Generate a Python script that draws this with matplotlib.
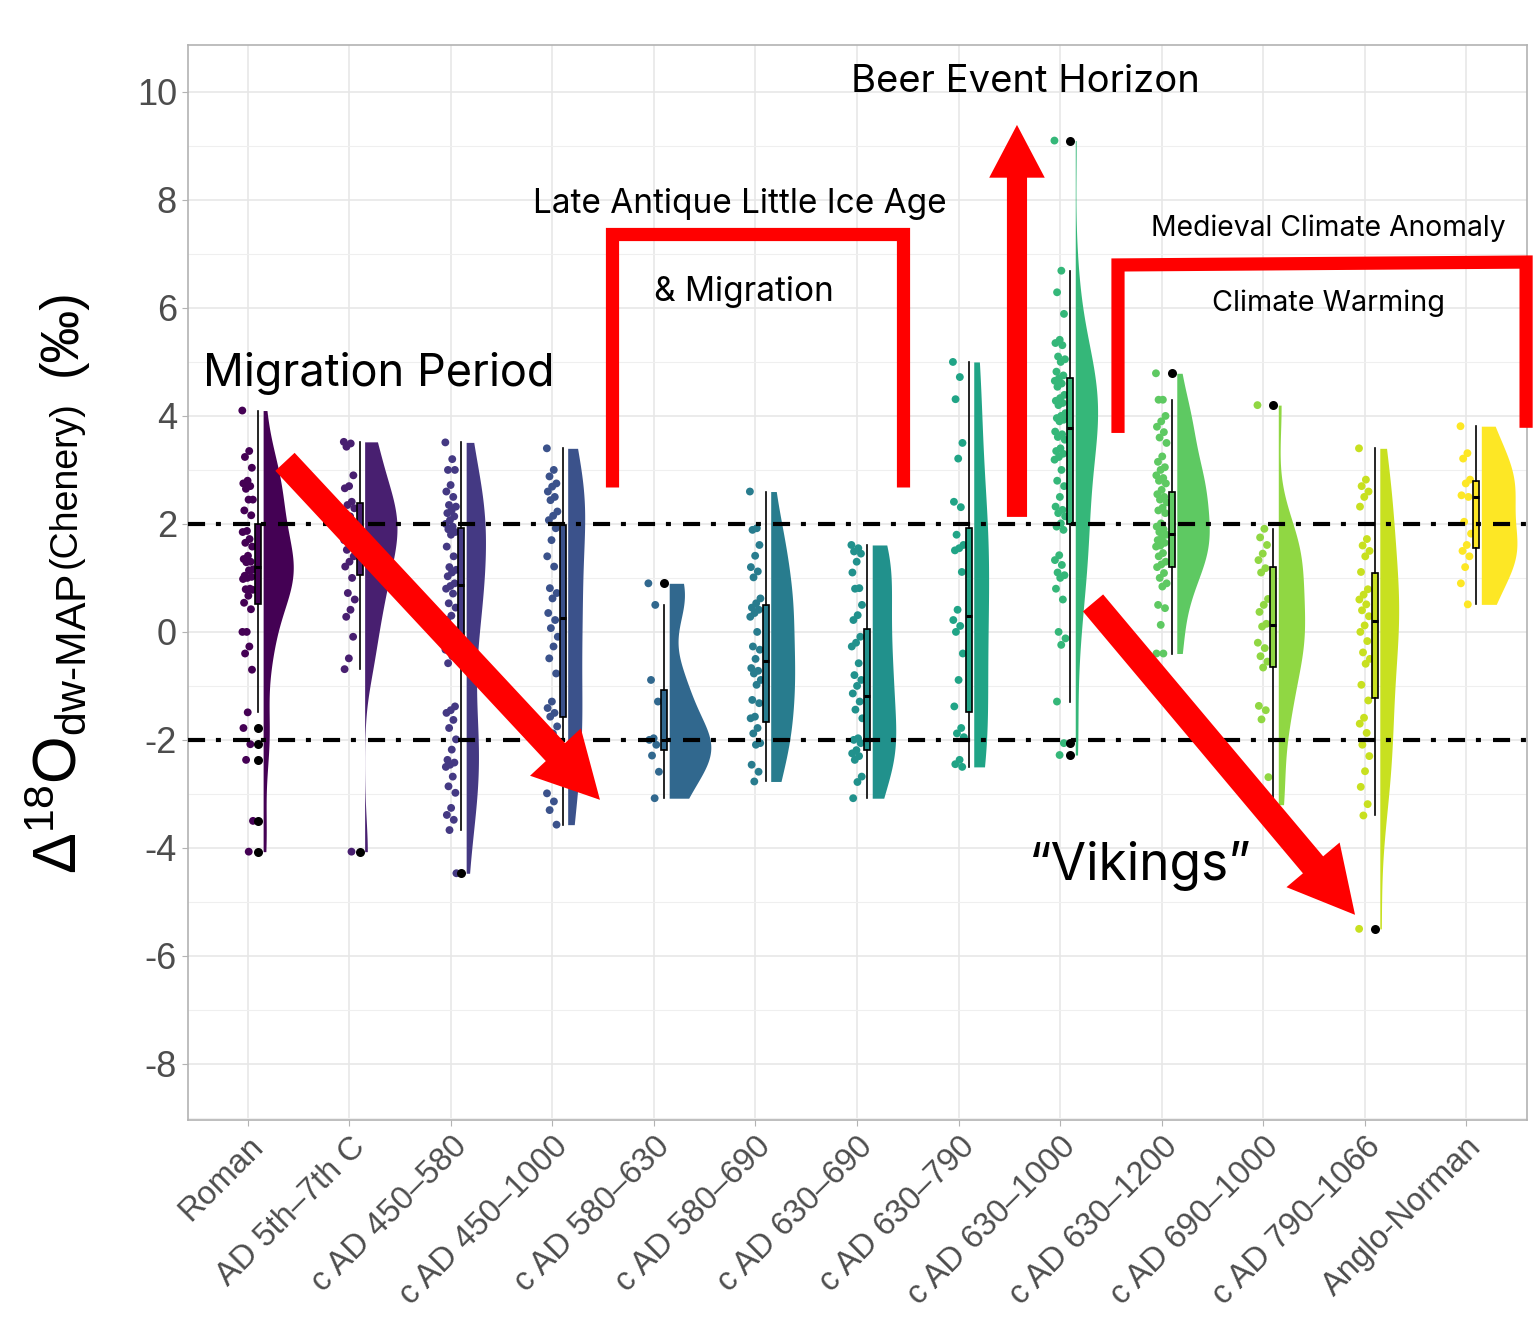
import numpy as np
import matplotlib
matplotlib.use('Agg')
import matplotlib.pyplot as plt

plt.rcParams['axes.unicode_minus'] = False
plt.rcParams['mathtext.fontset'] = 'custom'
plt.rcParams['mathtext.rm'] = 'Liberation Sans'
plt.rcParams['mathtext.it'] = 'Liberation Sans:italic'
plt.rcParams['mathtext.bf'] = 'Liberation Sans:bold'
plt.rcParams['font.family'] = ['Liberation Sans', 'DejaVu Sans']

groups = ['Roman', 'AD 5th\u20137th C', 'c AD 450\u2013580', 'c AD 450\u20131000',
          'c AD 580\u2013630', 'c AD 580\u2013690', 'c AD 630\u2013690', 'c AD 630\u2013790',
          'c AD 630\u20131000', 'c AD 630\u20131200', 'c AD 690\u20131000',
          'c AD 790\u20131066', 'Anglo-Norman']

# d18O values, one list per period
roman = [4.1, 3.35, 3.24, 3.04, 2.8, 2.75, 2.7, 2.65, 2.45, 2.45, 2.25, 2.16, 1.87, 1.85,
         1.72, 1.65, 1.58, 1.41, 1.35, 1.3, 1.29, 1.16, 1.14, 1.04, 1.02, 1.0, 0.98, 0.8,
         0.79, 0.78, 0.67, 0.54, 0.42, 0.0, 0.0, -0.27, -0.4, -0.7, -1.49, -1.78, -2.08,
         -2.37, -3.5, -4.07]
ad_5_7 = [3.52, 3.49, 3.43, 2.9, 2.7, 2.66, 2.41, 2.35, 2.29, 2.14, 2.11, 1.95, 1.9, 1.7,
          1.64, 1.52, 1.4, 1.3, 1.21, 1.0, 0.72, 0.6, 0.41, 0.28, -0.09, -0.49, -0.69, -4.07]
ad_450_580 = [3.51, 3.2, 3.0, 3.0, 2.72, 2.6, 2.5, 2.35, 2.32, 2.25, 2.2, 2.14, 2.07, 2.0,
              1.95, 1.9, 1.85, 1.8, 1.58, 1.4, 1.2, 1.15, 1.1, 1.03, 0.9, 0.85, 0.8, 0.71,
              0.53, 0.45, 0.3, 0.22, 0.04, -0.02, -0.33, -0.45, -0.58, -1.38, -1.45, -1.5,
              -1.63, -1.78, -1.99, -2.18, -2.37, -2.42, -2.46, -2.5, -2.68, -2.86, -2.98,
              -3.26, -3.39, -3.48, -3.67, -4.47]
ad_450_1000 = [3.4, 3.0, 2.88, 2.75, 2.69, 2.6, 2.5, 2.44, 2.23, 2.15, 2.07, 1.92, 1.7, 1.4,
               1.21, 0.81, 0.72, 0.62, 0.35, 0.22, 0.07, -0.09, -0.27, -0.49, -0.77, -1.29,
               -1.41, -1.5, -1.57, -1.75, -1.88, -2.0, -2.12, -2.52, -2.99, -3.14, -3.3, -3.57]
ad_580_630 = [0.9, 0.5, -0.89, -1.29, -1.97, -2.0, -2.09, -2.29, -2.59, -3.08]
ad_580_690 = [2.6, 1.92, 1.89, 1.61, 1.41, 1.2, 1.12, 1.01, 0.62, 0.53, 0.45, 0.41, 0.35,
              0.28, 0.0, -0.27, -0.33, -0.5, -0.67, -0.72, -0.77, -0.89, -0.98, -1.26,
              -1.32, -1.57, -1.6, -1.78, -1.88, -2.06, -2.09, -2.46, -2.59, -2.77]
ad_630_690 = [1.61, 1.55, 1.49, 1.45, 1.3, 1.1, 0.81, 0.8, 0.5, 0.31, 0.22, -0.09, -0.2,
              -0.27, -0.58, -0.8, -0.89, -1.0, -1.14, -1.29, -1.44, -1.6, -1.97, -2.0,
              -2.06, -2.19, -2.25, -2.3, -2.37, -2.68, -2.78, -3.08]
ad_630_790 = [5.0, 4.72, 4.31, 3.5, 3.21, 2.41, 2.31, 1.8, 1.61, 1.55, 1.51, 1.11, 0.41,
              0.22, 0.11, 0.0, -0.4, -0.89, -1.38, -1.78, -1.88, -1.95, -2.37, -2.45, -2.5]
ad_630_1000 = [9.1, 6.69, 6.29, 5.89, 5.41, 5.35, 5.31, 5.1, 5.05, 5.0, 4.82, 4.75, 4.7,
               4.65, 4.6, 4.54, 4.39, 4.33, 4.28, 4.24, 4.2, 4.05, 4.0, 3.96, 3.93, 3.9,
               3.71, 3.66, 3.61, 3.56, 3.4, 3.35, 3.3, 3.24, 3.19, 3.0, 2.8, 2.7, 2.5, 2.32,
               2.26, 2.2, 2.14, 2.01, 1.95, 1.89, 1.42, 1.33, 1.24, 1.1, 1.05, 1.0, 0.8,
               0.6, 0.0, -0.12, -0.24, -1.29, -2.06, -2.28]
ad_630_1200 = [4.79, 4.3, 4.3, 4.0, 3.9, 3.8, 3.7, 3.6, 3.5, 3.25, 3.15, 3.05, 3.0, 2.9,
               2.85, 2.8, 2.75, 2.63, 2.55, 2.5, 2.45, 2.4, 2.3, 2.25, 2.2, 2.01, 1.95,
               1.9, 1.85, 1.8, 1.75, 1.7, 1.65, 1.6, 1.58, 1.46, 1.4, 1.3, 1.25, 1.2, 1.09,
               1.0, 0.9, 0.84, 0.5, 0.44, 0.13, -0.4, -0.4]
ad_690_1000 = [4.2, 1.91, 1.75, 1.61, 1.45, 1.33, 1.18, 1.1, 0.61, 0.5, 0.37, 0.15, 0.1,
               -0.2, -0.3, -0.45, -0.55, -0.66, -1.37, -1.45, -1.62, -2.69, -3.2]
ad_790_1066 = [3.4, 2.82, 2.7, 2.6, 2.5, 2.32, 1.72, 1.6, 1.5, 1.4, 1.11, 0.79, 0.69, 0.6,
               0.51, 0.4, 0.29, 0.12, 0.0, -0.17, -0.38, -0.5, -0.59, -0.98, -1.27, -1.59,
               -1.7, -1.87, -2.09, -2.3, -2.58, -2.87, -3.19, -3.4, -5.5]
anglo_norman = [3.81, 3.31, 3.21, 2.82, 2.75, 2.53, 2.5, 2.04, 1.82, 1.61, 1.5, 1.4, 1.2,
                0.9, 0.51]

values = [roman, ad_5_7, ad_450_580, ad_450_1000, ad_580_630, ad_580_690, ad_630_690,
          ad_630_790, ad_630_1000, ad_630_1200, ad_690_1000, ad_790_1066, anglo_norman]

# boxplot statistics as drawn in the chart
box_q1 = [0.52, 1.06, -0.4, -1.57, -2.19, -1.66, -2.19, -1.49, 1.99, 1.21, -0.65, -1.22, 1.55]
box_med = [1.21, 1.8, 0.86, 0.25, -2.0, -0.54, -1.19, 0.3, 3.77, 1.81, 0.12, 0.2, 2.5]
box_q3 = [2.0, 2.38, 1.92, 1.98, -1.08, 0.5, 0.05, 1.92, 4.7, 2.59, 1.2, 1.1, 2.8]
whis_lo = [-1.49, -0.69, -3.67, -3.57, -3.08, -2.77, -3.08, -2.5, -1.29, -0.4, -3.2, -3.4, 0.51]
whis_hi = [4.1, 3.52, 3.51, 3.4, 0.5, 2.6, 1.61, 5.0, 6.69, 4.3, 1.91, 3.4, 3.81]
fliers = [[-1.78, -2.08, -2.37, -3.5, -4.07], [-4.07], [-4.47], [], [0.9], [], [], [],
          [9.1, -2.06, -2.28], [4.79], [4.2], [-5.5], []]

colors = plt.cm.viridis(np.linspace(0, 1, len(groups)))


def nrd0(x):
    sd = x.std(ddof=1)
    q75, q25 = np.percentile(x, [75, 25])
    lo = min(sd, (q75 - q25) / 1.34)
    if lo <= 0:
        lo = sd
    return 0.9 * lo * len(x) ** -0.2


def density(x, grid):
    bw = nrd0(x)
    z = (grid[:, None] - x[None, :]) / bw
    return np.exp(-0.5 * z ** 2).sum(axis=1) / (len(x) * bw * np.sqrt(2 * np.pi))


fig = plt.figure(figsize=(15.36, 13.25), dpi=100)
ax = fig.add_axes([188 / 1536, (1325 - 1120) / 1325, (1527 - 188) / 1536, (1120 - 45) / 1325])

grids, dens = [], []
for vals in values:
    v = np.array(vals)
    g = np.linspace(v.min(), v.max(), 512)
    grids.append(g)
    dens.append(density(v, g))
scale = 0.41 / max(d.max() for d in dens)

for i, vals in enumerate(values):
    pos = i + 1
    c = colors[i]
    v = np.array(vals)
    ax.fill_betweenx(grids[i], pos + 0.15, pos + 0.15 + dens[i] * scale, color=c, lw=0, zorder=2)
    jit = ((np.arange(len(v)) * 0.618) % 1 - 0.5) * 0.11
    ax.scatter(pos + jit, v, s=32, color=c, edgecolors='none', zorder=3)
    st = dict(med=box_med[i], q1=box_q1[i], q3=box_q3[i], whislo=whis_lo[i],
              whishi=whis_hi[i], fliers=fliers[i])
    ax.bxp([st], positions=[pos + 0.1], widths=0.06, patch_artist=True, showcaps=False,
           boxprops=dict(facecolor=c, edgecolor='black', lw=1.2),
           medianprops=dict(color='black', lw=2.2),
           whiskerprops=dict(color='black', lw=1.2),
           flierprops=dict(marker='o', markerfacecolor='black', markeredgecolor='none',
                           markersize=6.5),
           manage_ticks=False, zorder=3)

for yl in (2, -2):
    ax.axhline(yl, color='black', lw=3, ls=(0, (4.1, 2.6, 1.2, 2.9)), zorder=4)

ax.set_xlim(0.41, 13.60)
ax.set_ylim(-9.04, 10.87)
ax.set_xticks(range(1, len(groups) + 1))
ax.set_xticklabels(groups, rotation=45, ha='right', va='top', rotation_mode='anchor',
                   fontsize=23.5)
ax.set_yticks(np.arange(-8, 11, 2))
ax.set_yticks(np.arange(-9, 11, 2), minor=True)
ax.grid(True, which='major', color='#E6E6E6', lw=1.1, zorder=0)
ax.grid(True, which='minor', axis='y', color='#EFEFEF', lw=0.8, zorder=0)
ax.set_axisbelow(True)
ax.tick_params(axis='both', which='major', labelcolor='#4D4D4D',
               color='#B3B3B3', length=4, width=0.8, pad=4)
ax.tick_params(axis='y', which='major', labelsize=26)
ax.tick_params(axis='y', which='minor', length=0)
for sp in ax.spines.values():
    sp.set_color('#B3B3B3')
    sp.set_linewidth(1.2)

# y-axis label in three pieces
fig.text(76 / 1536, (1325 - 874) / 1325, r'$\Delta^{18}$O$_{\text{dw-MAP}}$', fontsize=44,
         rotation=90, rotation_mode='anchor', ha='left', va='baseline')
fig.text(76 / 1536, (1325 - 568) / 1325, '(Chenery)', fontsize=27,
         rotation=90, rotation_mode='anchor', ha='left', va='baseline')
fig.text(76 / 1536, (1325 - 376) / 1325, '(\u2030)', fontsize=38,
         rotation=90, rotation_mode='anchor', ha='left', va='baseline')

# red annotations
red = '#FF0000'
arrow_big = 'simple,head_length=47,head_width=50,tail_width=19'
ax.annotate('', xy=(4.468, -3.11), xytext=(1.365, 3.15), annotation_clip=False,
            arrowprops=dict(arrowstyle=arrow_big, fc=red, ec='none', shrinkA=0, shrinkB=0,
                            mutation_scale=1), zorder=6)
ax.annotate('', xy=(11.906, -5.24), xytext=(9.325, 0.537), annotation_clip=False,
            arrowprops=dict(arrowstyle=arrow_big, fc=red, ec='none', shrinkA=0, shrinkB=0,
                            mutation_scale=1), zorder=6)
ax.annotate('', xy=(8.576, 9.39), xytext=(8.576, 2.13), annotation_clip=False,
            arrowprops=dict(arrowstyle='simple,head_length=38,head_width=40,tail_width=14.5',
                            fc=red, ec='none', shrinkA=0, shrinkB=0, mutation_scale=1), zorder=6)
ax.plot([4.586, 4.586, 7.453, 7.453], [2.685, 7.37, 7.37, 2.685], color=red, lw=9.5,
        solid_joinstyle='miter', solid_capstyle='butt', clip_on=False, zorder=6)
ax.plot([9.571, 9.571, 13.591, 13.591], [3.685, 6.796, 6.85, 3.78], color=red, lw=9.5,
        solid_joinstyle='miter', solid_capstyle='butt', clip_on=False, zorder=6)

font = 'Inter'
ax.text(2.286, 4.56, 'Migration Period', fontsize=32.5, family=font, ha='center', va='baseline', zorder=7)
ax.text(5.847, 7.76, 'Late Antique Little Ice Age', fontsize=24, family=font, ha='center', va='baseline', zorder=7)
ax.text(5.887, 6.13, '& Migration', fontsize=24, family=font, ha='center', va='baseline', zorder=7)
ax.text(8.655, 10.0, 'Beer Event Horizon', fontsize=27.5, family=font, ha='center', va='baseline', zorder=7)
ax.text(11.64, 7.33, 'Medieval Climate Anomaly', fontsize=20.4, family=font, ha='center', va='baseline', zorder=7)
ax.text(11.64, 5.94, 'Climate Warming', fontsize=20.7, family=font, ha='center', va='baseline', zorder=7)
ax.text(9.79, -4.59, '\u201cVikings\u201d', fontsize=37, family=font, ha='center', va='baseline', zorder=7)

fig.savefig('out.png', dpi=100)
